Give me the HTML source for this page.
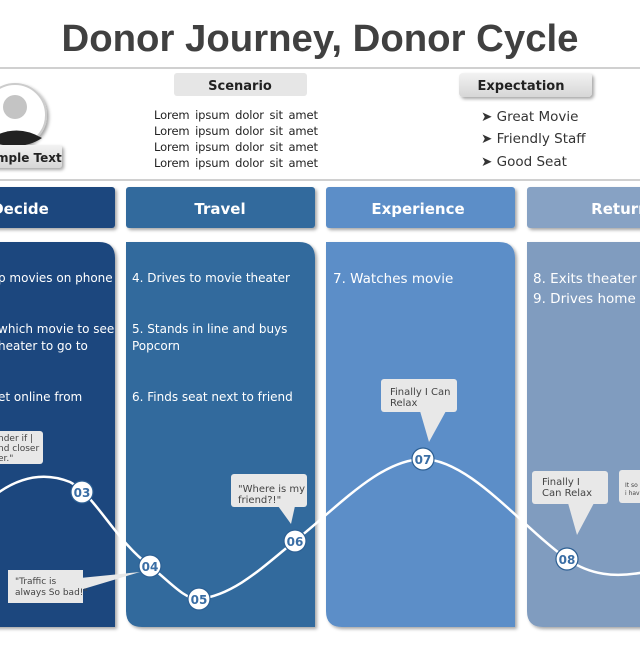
<!DOCTYPE html>
<html><head><meta charset="utf-8"><style>
body{margin:0;width:640px;height:640px;overflow:hidden;background:#fff;font-family:"Liberation Sans","DejaVu Sans",sans-serif}
</style></head><body>
<svg width="640" height="640" viewBox="0 0 640 640" xmlns="http://www.w3.org/2000/svg" font-family="'DejaVu Sans','Liberation Sans',sans-serif">
<defs>
<filter id="sh" x="-10%" y="-10%" width="130%" height="130%"><feDropShadow dx="2" dy="2" stdDeviation="1.5" flood-color="#000" flood-opacity="0.35"/></filter>
<linearGradient id="btn" x1="0" y1="0" x2="0" y2="1"><stop offset="0" stop-color="#f2f2f2"/><stop offset="1" stop-color="#d6d6d6"/></linearGradient>
</defs>
<text x="320" y="51" text-anchor="middle" font-family="'Liberation Sans',sans-serif" font-weight="bold" font-size="38" fill="#404040" textLength="517" lengthAdjust="spacingAndGlyphs">Donor Journey, Donor Cycle</text>
<line x1="0" y1="68" x2="640" y2="68" stroke="#d0d0d0" stroke-width="2"/>
<line x1="0" y1="180" x2="640" y2="180" stroke="#d0d0d0" stroke-width="2"/>
<!-- photo -->
<circle cx="15" cy="115" r="31" fill="#fff" stroke="#ccc" stroke-width="2" filter="url(#sh)"/>
<circle cx="15" cy="107" r="12" fill="#c4c4c4"/>
<path d="M-12 140 Q15 122 42 138 Q30 146 15 146 Q0 146 -12 140 Z" fill="#222"/>
<rect x="-10" y="145" width="72" height="23" rx="3" fill="url(#btn)" filter="url(#sh)"/>
<text x="-4" y="162" font-weight="bold" font-size="12" fill="#222">mple Text</text>
<!-- scenario -->
<rect x="174" y="73" width="133" height="23" rx="3" fill="#e6e6e6"/>
<text x="240" y="90" text-anchor="middle" font-weight="bold" font-size="13" fill="#222">Scenario</text>
<g font-size="11.5" fill="#222" word-spacing="2">
<text x="154" y="119" textLength="164">Lorem ipsum dolor sit amet</text>
<text x="154" y="135" textLength="164">Lorem ipsum dolor sit amet</text>
<text x="154" y="151" textLength="164">Lorem ipsum dolor sit amet</text>
<text x="154" y="167" textLength="164">Lorem ipsum dolor sit amet</text>
</g>
<rect x="459" y="73" width="133" height="24" rx="4" fill="url(#btn)" filter="url(#sh)"/>
<text x="521" y="90" text-anchor="middle" font-weight="bold" font-size="13" fill="#222">Expectation</text>
<g font-size="13.5" fill="#333">
<text x="481" y="121">➤ Great Movie</text>
<text x="481" y="143">➤ Friendly  Staff</text>
<text x="481" y="166">➤ Good Seat</text>
</g>
<!-- headers -->
<g filter="url(#sh)">
<rect x="-10" y="187" width="125" height="41" rx="3" fill="#1f477e"/>
<rect x="126" y="187" width="189" height="41" rx="3" fill="#336a9d"/>
<rect x="326" y="187" width="189" height="41" rx="3" fill="#5c8ec8"/>
<rect x="527" y="187" width="130" height="41" rx="3" fill="#87a2c4"/>
</g>
<g font-weight="bold" font-size="15" fill="#fff" text-anchor="middle">
<text x="20" y="214">Decide</text>
<text x="220" y="214">Travel</text>
<text x="418" y="214">Experience</text>
<text x="620" y="214">Return</text>
</g>
<!-- panels -->
<g filter="url(#sh)">
<path d="M-10 242 H99 Q115 242 115 258 V627 H-10 Z" fill="#1f477e"/>
<path d="M126 242 H299 Q315 242 315 258 V627 H142 Q126 627 126 611 Z" fill="#336a9d"/>
<path d="M326 242 H499 Q515 242 515 258 V627 H342 Q326 627 326 611 Z" fill="#5c8ec8"/>
<path d="M527 242 H660 V627 H543 Q527 627 527 611 Z" fill="#809cbf"/>
</g>
<g font-size="12" fill="#fff">
<text x="-2" y="282">p movies on phone</text>
<text x="-2" y="333">which movie to see</text>
<text x="-2" y="350">heater to go to</text>
<text x="-2" y="401">et online from</text>
<text x="132" y="282">4. Drives to movie theater</text>
<text x="132" y="333">5. Stands in line and buys</text>
<text x="132" y="350">Popcorn</text>
<text x="132" y="401">6. Finds seat next to friend</text>
</g>
<g font-size="13.5" fill="#fff">
<text x="333" y="283">7. Watches movie</text>
<text x="533" y="283">8. Exits theater</text>
<text x="533" y="303">9. Drives home</text>
</g>
<!-- curve -->
<path d="M-5 495 C15 480 40 470 70 482 C95 495 115 540 150 566 C170 582 185 600 199 599 C235 595 265 565 295 541 C340 505 380 460 423 459 C470 460 520 525 567 559 C590 575 615 578 645 572" fill="none" stroke="#fff" stroke-width="2.5"/>
<!-- callouts -->
<g fill="#e8e8e8">
<rect x="-10" y="431" width="53" height="33" rx="3"/>
<path d="M8 570 H83 V603 H8 Z"/><path d="M80 578 L140 572 L80 590 Z"/>
<rect x="231" y="474" width="76" height="33" rx="3"/><path d="M278 506 L291 524 L295 506 Z"/>
<rect x="381" y="379" width="76" height="33" rx="3"/><path d="M420 411 L429 442 L446 411 Z"/>
<rect x="532" y="471" width="76" height="33" rx="3"/><path d="M568 503 L577 535 L594 503 Z"/>
<rect x="619" y="470" width="40" height="33" rx="3"/>
</g>
<g font-size="9" fill="#444">
<text x="-2" y="441">nder if |</text><text x="-2" y="451">nd closer</text><text x="-2" y="461">er."</text>
<text x="15" y="584">"Traffic is</text><text x="15" y="595">always So bad!"</text>
<text x="238" y="492" font-size="10">"Where is my</text><text x="238" y="503" font-size="10">friend?!"</text>
<text x="390" y="395" font-size="10">Finally I Can</text><text x="390" y="406" font-size="10">Relax</text>
<text x="542" y="485" font-size="10">Finally I</text><text x="542" y="496" font-size="10">Can Relax</text>
<text x="625" y="487" font-size="6">It so</text><text x="625" y="495" font-size="6">i hav</text>
</g>
<!-- nodes -->
<g fill="#fff" stroke="#2c5f93" stroke-width="1.2">
<circle cx="82" cy="492" r="11"/><circle cx="150" cy="566" r="11"/><circle cx="199" cy="599" r="11"/>
<circle cx="295" cy="541" r="11"/><circle cx="423" cy="459" r="11"/><circle cx="567" cy="559" r="11"/>
</g>
<g font-weight="bold" font-size="12" fill="#3a6ea5" text-anchor="middle">
<text x="82" y="497">03</text><text x="150" y="571">04</text><text x="199" y="604">05</text>
<text x="295" y="546">06</text><text x="423" y="464">07</text><text x="567" y="564">08</text>
</g>
</svg>
</body></html>
